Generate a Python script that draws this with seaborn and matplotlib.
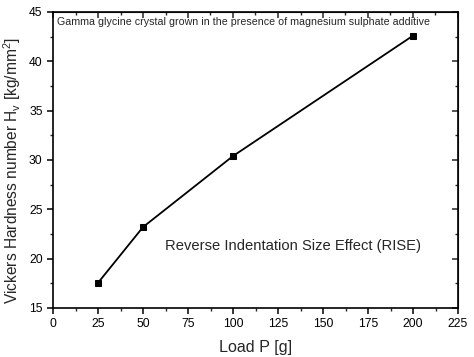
import numpy as np
import pandas as pd
import matplotlib
matplotlib.use("Agg")
import matplotlib.pyplot as plt
from matplotlib.ticker import MultipleLocator
import seaborn as sns

sns.set_style("ticks")
plt.rcParams['font.family'] = ['Liberation Sans', 'DejaVu Sans']
plt.rcParams['mathtext.fontset'] = 'custom'
plt.rcParams['mathtext.rm'] = 'Liberation Sans'
plt.rcParams['mathtext.it'] = 'Liberation Sans'

# Данные
load_p = [25, 50, 100, 200]
hardness_hv = [17.55, 23.2, 30.4, 42.6]

df = pd.DataFrame({"load": load_p, "hv": hardness_hv})

fig = plt.figure(figsize=(4.74, 3.57), dpi=100)
ax = fig.add_axes([53 / 474, 1 - 308 / 357, 405 / 474, 296 / 357])

sns.lineplot(data=df, x="load", y="hv", ax=ax, color="black", linewidth=1.3,
             marker="s", markersize=4.5, markeredgecolor="black")

ax.set_xlim(0, 225)
ax.set_ylim(15, 45)
ax.xaxis.set_major_locator(MultipleLocator(25))
ax.xaxis.set_minor_locator(MultipleLocator(12.5))
ax.yaxis.set_major_locator(MultipleLocator(5))
ax.yaxis.set_minor_locator(MultipleLocator(2.5))

for s in ax.spines.values():
    s.set_linewidth(1.2)
    s.set_color("black")
ax.tick_params(which="major", direction="out", length=4, width=1.1, labelsize=8.7, colors="black")
ax.tick_params(which="minor", direction="out", length=2.5, width=1.0)

# зеркальные оси без подписей
top = ax.secondary_xaxis("top")
top.xaxis.set_major_locator(MultipleLocator(25))
top.xaxis.set_minor_locator(MultipleLocator(12.5))
top.tick_params(which="major", direction="in", length=4, width=1.1, labeltop=False)
top.tick_params(which="minor", direction="in", length=2.5, width=1.0)
right = ax.secondary_yaxis("right")
right.yaxis.set_major_locator(MultipleLocator(5))
right.yaxis.set_minor_locator(MultipleLocator(2.5))
right.tick_params(which="major", direction="in", length=4, width=1.1, labelright=False)
right.tick_params(which="minor", direction="in", length=2.5, width=1.0)

ax.set_xlabel("Load P [g]", fontsize=11.6, labelpad=7)
ax.set_ylabel(r"Vickers Hardness number H$_\mathregular{v}$ [kg/mm$^\mathregular{2}$]",
              fontsize=11.2)
ax.yaxis.set_label_coords(-0.074, 0.465)

ax.text(0.01, 0.965, "Gamma glycine crystal grown in the presence of magnesium sulphate additive",
        transform=ax.transAxes, fontsize=7.7, va="center", ha="left")
ax.text(0.277, 0.208, "Reverse Indentation Size Effect (RISE)",
        transform=ax.transAxes, fontsize=10.6, va="center", ha="left")

plt.savefig("out.png", dpi=100)
plt.close(fig)
